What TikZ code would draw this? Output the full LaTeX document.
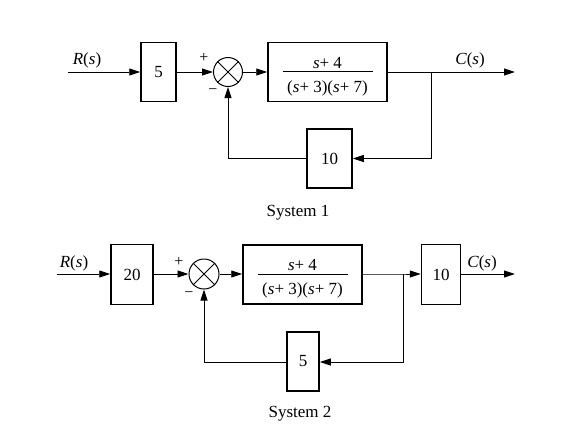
\documentclass[tikz,border=0pt]{standalone}
\usepackage{fontspec}
\setmainfont{Liberation Serif}
\usetikzlibrary{arrows.meta,calc}
\begin{document}
\begin{tikzpicture}[x=1pt,y=-1pt,
 blk/.style={draw,line width=1.5pt,inner sep=0pt,font=\fontsize{17}{20}\selectfont},
 sumj/.style={draw,circle,line width=1pt,minimum size=29pt,inner sep=0pt},
 sig/.style={line width=0.95pt},
 arr/.style={sig,-{Triangle[length=11pt,width=7pt]}},
 lbl/.style={font=\fontsize{17}{20}\selectfont,inner sep=0pt},
 sgn/.style={font=\fontsize{16}{18}\selectfont,inner sep=0pt}]
\useasboundingbox[fill=white] (0,0) rectangle (572,440);

% ---------- System 1 ----------
\coordinate (in1) at (68,72);
\node[blk,minimum width=35pt,minimum height=59pt] (k1) at (158.5,72) {5};
\node[sumj] (s1) at (228,72) {};
\draw[sig] (s1.north west) -- (s1.south east) (s1.north east) -- (s1.south west);
\node[blk,minimum width=119pt,minimum height=59pt] (g1) at (327.5,72) {};
\node[lbl,anchor=base] (n1) at ($(g1.center)+(0,-4)$) {\textit{s}+ 4};
\draw[line width=0.9pt] ($(g1.center)+(-45,-0.5)$) -- ($(g1.center)+(45,-0.5)$);
\node[lbl,anchor=base] (d1) at ($(g1.center)+(0,20)$) {(\textit{s}+ 3)(\textit{s}+ 7)};
\node[blk,minimum width=45pt,minimum height=59pt] (h1) at (329.5,158.5) {10};
\coordinate (b1) at (431,72);
\coordinate (out1) at (515,72);
\coordinate (fr1) at (431,158.5);
\coordinate (fl1) at (228,158.5);

\draw[arr] (in1) -- (k1.west);
\draw[arr] (k1.east) -- (s1.west);
\draw[arr] (s1.east) -- (g1.west);
\draw[arr] (g1.east) -- (out1);
\draw[arr] (b1) -- (fr1) -- (h1.east);
\draw[arr] (h1.west) -- (fl1) -- (s1.south);

\node[lbl,anchor=base] (r1) at (87,64) {\textit{R}(\textit{s})};
\node[lbl,anchor=base] (c1) at (470,64) {\textit{C}(\textit{s})};
\node[sgn] (p1) at (204,58) {+};
\node[sgn] (m1) at (213,92) {\textminus};
\node[lbl,anchor=base] (t1) at (298,216) {System 1};

% ---------- System 2 ----------
\coordinate (in2) at (57,274);
\node[blk,minimum width=42pt,minimum height=60pt] (k2) at (132,274.5) {20};
\node[sumj,minimum size=30pt] (s2) at (204,274) {};
\draw[sig] (s2.north west) -- (s2.south east) (s2.north east) -- (s2.south west);
\node[blk,minimum width=119pt,minimum height=59pt] (g2) at (302.5,274.5) {};
\node[lbl,anchor=base] (n2) at ($(g2.center)+(0,-4)$) {\textit{s}+ 4};
\draw[line width=0.9pt] ($(g2.center)+(-45,-0.5)$) -- ($(g2.center)+(45,-0.5)$);
\node[lbl,anchor=base] (d2) at ($(g2.center)+(0,20)$) {(\textit{s}+ 3)(\textit{s}+ 7)};
\node[blk,minimum width=39pt,minimum height=60pt] (k3) at (441,274.5) {10};
\node[blk,minimum width=32pt,minimum height=59pt] (h2) at (303,361.5) {5};
\coordinate (b2) at (403,274);
\coordinate (out2) at (515,274);
\coordinate (fr2) at (403,362);
\coordinate (fl2) at (204,362);

\draw[arr] (in2) -- (k2.west |- in2);
\draw[arr] (k2.east |- in2) -- (s2.west);
\draw[arr] (s2.east) -- (g2.west |- s2);
\draw[arr] (g2.east |- b2) -- (b2) -- (k3.west |- b2);
\draw[arr] (k3.east |- out2) -- (out2);
\draw[arr] (b2) -- (fr2) -- (h2.east |- fr2);
\draw[arr] (h2.west |- fl2) -- (fl2) -- (s2.south);

\node[lbl,anchor=base] (r2) at (74,267) {\textit{R}(\textit{s})};
\node[lbl,anchor=base] (c2) at (482,267) {\textit{C}(\textit{s})};
\node[sgn] (p2) at (179,262) {+};
\node[sgn] (m2) at (189,295) {\textminus};
\node[lbl,anchor=base] (t2) at (300,417) {System 2};
\end{tikzpicture}
\end{document}
